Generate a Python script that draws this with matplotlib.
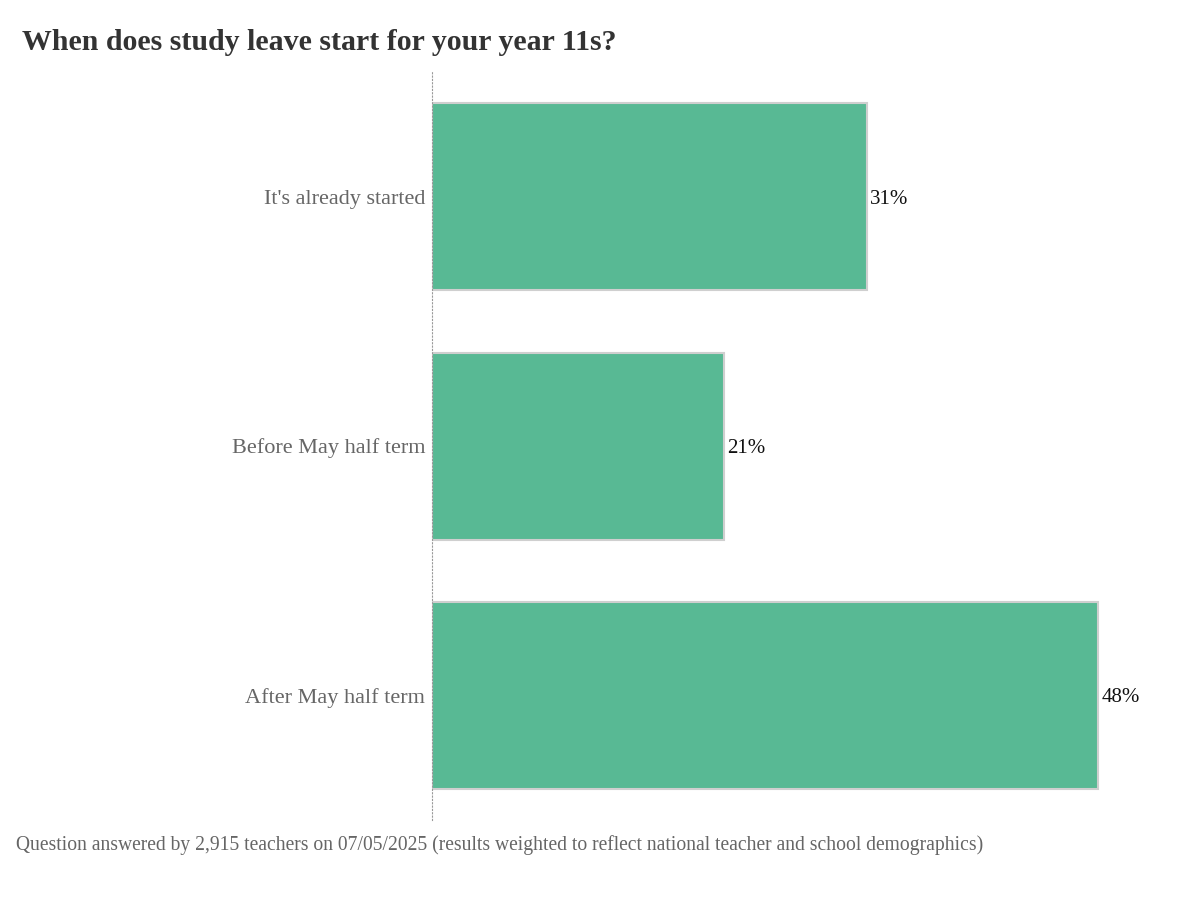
import matplotlib.pyplot as plt

categories = ["It's already started", "Before May half term", "After May half term"]
values = [31.3, 21, 48]
value_labels = ["31%", "21%", "48%"]

title = "When does study leave start for your year 11s?"
footnote = ("Question answered by 2,915 teachers on 07/05/2025 "
            "(results weighted to reflect national teacher and school demographics)")

plt.rcParams['font.family'] = ['Liberation Serif', 'DejaVu Serif']

fig = plt.figure(figsize=(12, 8.97), dpi=100)
ax = fig.add_axes([0.36, 0.0858, 0.59, 0.8339])

y = list(range(len(categories)))
ax.barh(y, values, height=0.75, color="#58b994", edgecolor="#cfcfcf", linewidth=1.5)

for yi, v, lab in zip(y, values, value_labels):
    ax.text(v + 0.25, yi, lab, va="center_baseline", ha="left", fontsize=15, color="#111111")

ax.set_ylim(2.5, -0.5)
ax.set_xlim(0, 51)
ax.set_yticks(y)
ax.set_yticklabels(categories, fontsize=16, color="#666666")
ax.tick_params(axis="y", length=0, pad=5)
ax.set_xticks([])
for s in ["top", "right", "bottom"]:
    ax.spines[s].set_visible(False)
ax.spines["left"].set_linestyle((0, (1, 2)))
ax.spines["left"].set_color("#999999")
ax.spines["left"].set_linewidth(0.8)

fig.text(0.018, 0.953, title, fontsize=21.5, fontweight="bold", color="#333333",
         ha="left", va="center")
fig.text(0.013, 0.058, footnote, fontsize=14.1, color="#666666", ha="left", va="center")

fig.savefig("out.png", dpi=100)
